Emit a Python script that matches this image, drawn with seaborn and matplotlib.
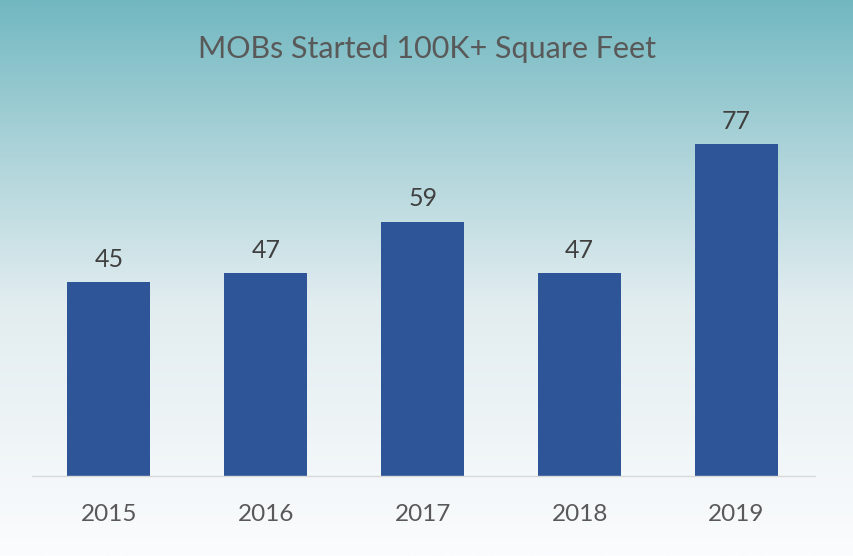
import numpy as np
import pandas as pd
import matplotlib
matplotlib.use('Agg')
import matplotlib.pyplot as plt
import seaborn as sns
from matplotlib.colors import LinearSegmentedColormap

sns.set_theme(style="white")
plt.rcParams['font.family'] = ['Lato', 'DejaVu Sans']

years = ['2015', '2016', '2017', '2018', '2019']
mobs = [45, 47, 59, 47, 77]

df = pd.DataFrame({'Year': years, 'MOBs': mobs})

fig = plt.figure(figsize=(8.54, 5.56), dpi=100)

# gradient background
bg = fig.add_axes([0, 0, 1, 1], zorder=0)
grad_cmap = LinearSegmentedColormap.from_list(
    'bg', [(0.0, '#72B8C1'), (0.25, '#A8D1D7'), (0.55, '#E2EDF0'), (1.0, '#FBFCFD')])
bg.imshow(np.linspace(0, 1, 256).reshape(-1, 1), aspect='auto', cmap=grad_cmap,
          extent=[0, 1, 0, 1])
bg.axis('off')

ax = fig.add_axes([32 / 854, 80 / 556, (815 - 32) / 854, 388 / 556], zorder=1)
ax.patch.set_alpha(0)
sns.barplot(data=df, x='Year', y='MOBs', color='#2E5597', saturation=1,
            width=0.53, linewidth=0, ax=ax)

for i, v in enumerate(mobs):
    ax.text(i, v + 2.6, str(v), ha='center', va='bottom', fontsize=18, color='#404040')

ax.set_ylim(0, 90)
ax.set_xlim(-0.49, 4.5)
ax.set_xlabel('')
ax.set_ylabel('')
ax.set_yticks([])
ax.tick_params(axis='x', length=0, labelsize=17.5, labelcolor='#595959', pad=20)
for s in ['top', 'right', 'left']:
    ax.spines[s].set_visible(False)
ax.spines['bottom'].set_color('#D9D9D9')
ax.spines['bottom'].set_linewidth(1)

fig.text(0.5, 0.912, 'MOBs Started 100K+ Square Feet', ha='center', va='center',
         fontsize=22, color='#595959')

fig.savefig('out.png', dpi=100)
